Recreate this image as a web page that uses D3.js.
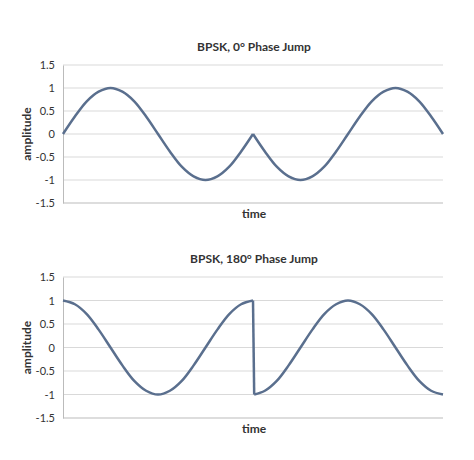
<!DOCTYPE html>
<html><head><meta charset="utf-8">
<script src="https://cdn.jsdelivr.net/npm/d3@7"></script>
<style>body{margin:0;background:#fff;font-family:Lato,"Open Sans",sans-serif}</style>
</head><body><div id="chart"></div>
<script>
// time steps: 1/16 of a period, 2 periods across the axis
const time = d3.range(0, 33).map((i) => i * 0.5);
const yTicks = [1.5, 1, 0.5, 0, -0.5, -1, -1.5];
const topTitle = "BPSK, 0\u00b0 Phase Jump";
const bottomTitle = "BPSK, 180\u00b0 Phase Jump";
// amplitude
const topAmp = [0, 0.38, 0.71, 0.92, 1, 0.92, 0.71, 0.38, 0, -0.38, -0.71, -0.92, -1, -0.92, -0.71, -0.38, 0,
  -0.38, -0.71, -0.92, -1, -0.92, -0.71, -0.38, 0, 0.38, 0.71, 0.92, 1, 0.92, 0.71, 0.38, 0];
const bottomAmpA = [1, 0.92, 0.71, 0.38, 0, -0.38, -0.71, -0.92, -1, -0.92, -0.71, -0.38, 0, 0.38, 0.71, 0.92, 1];
const bottomAmpB = [-1, -0.92, -0.71, -0.38, 0, 0.38, 0.71, 0.92, 1, 0.92, 0.71, 0.38, 0, -0.38, -0.71, -0.92, -1];

const width = 474, height = 460;
const svg = d3.select("#chart").append("svg").attr("width", width).attr("height", height);
const x = d3.scaleLinear().domain([0, 16]).range([63, 443]);

function panel(top, bottom, title, segments) {
  const y = d3.scaleLinear().domain([-1.5, 1.5]).range([bottom, top]);
  const g = svg.append("g");
  g.selectAll("line.grid").data(yTicks).enter().append("line")
    .attr("x1", x(0)).attr("x2", x(16))
    .attr("y1", (d) => y(d)).attr("y2", (d) => y(d))
    .attr("stroke", (d) => d === -1.5 ? "#bbb" : "#d9d9d9").attr("stroke-width", 1);
  g.append("g").attr("transform", `translate(${x(0)},0)`)
    .call(d3.axisLeft(y).tickValues(yTicks).tickSize(0).tickPadding(8).tickFormat((d) => String(d)))
    .call((a) => a.select(".domain").attr("stroke", "#bbb"))
    .selectAll("text").attr("font-size", 11).attr("fill", "#333").attr("font-family", "Lato,sans-serif");
  g.append("text").attr("x", 254).attr("y", top - 14).attr("text-anchor", "middle")
    .attr("font-size", 12).attr("font-weight", "bold").attr("fill", "#333").text(title);
  g.append("text").attr("x", 254).attr("y", bottom + 15).attr("text-anchor", "middle")
    .attr("font-size", 12).attr("font-weight", "bold").attr("fill", "#333").text("time");
  g.append("text").attr("transform", `translate(31,${(top + bottom) / 2}) rotate(-90)`)
    .attr("text-anchor", "middle").attr("font-size", 12).attr("font-weight", "bold").attr("fill", "#333").text("amplitude");
  const line = d3.line().x((d) => x(d[0])).y((d) => y(d[1])).curve(d3.curveCatmullRom);
  segments.forEach((s) => {
    g.append("path").datum(s).attr("fill", "none").attr("stroke", "#5a6f8e")
      .attr("stroke-width", 2.5).attr("d", line);
  });
}

const topData = time.map((t, i) => [t, topAmp[i]]);
panel(65, 203, topTitle, [topData.slice(0, 17), topData.slice(16)]);
const segA = time.slice(0, 17).map((t, i) => [t, bottomAmpA[i]]);
const segB = time.slice(16).map((t, i) => [t + (i === 0 ? 0.05 : 0), bottomAmpB[i]]);
panel(277, 418, bottomTitle, [segA, [[8, 1], [8.05, -1]], segB]);
</script></body></html>
